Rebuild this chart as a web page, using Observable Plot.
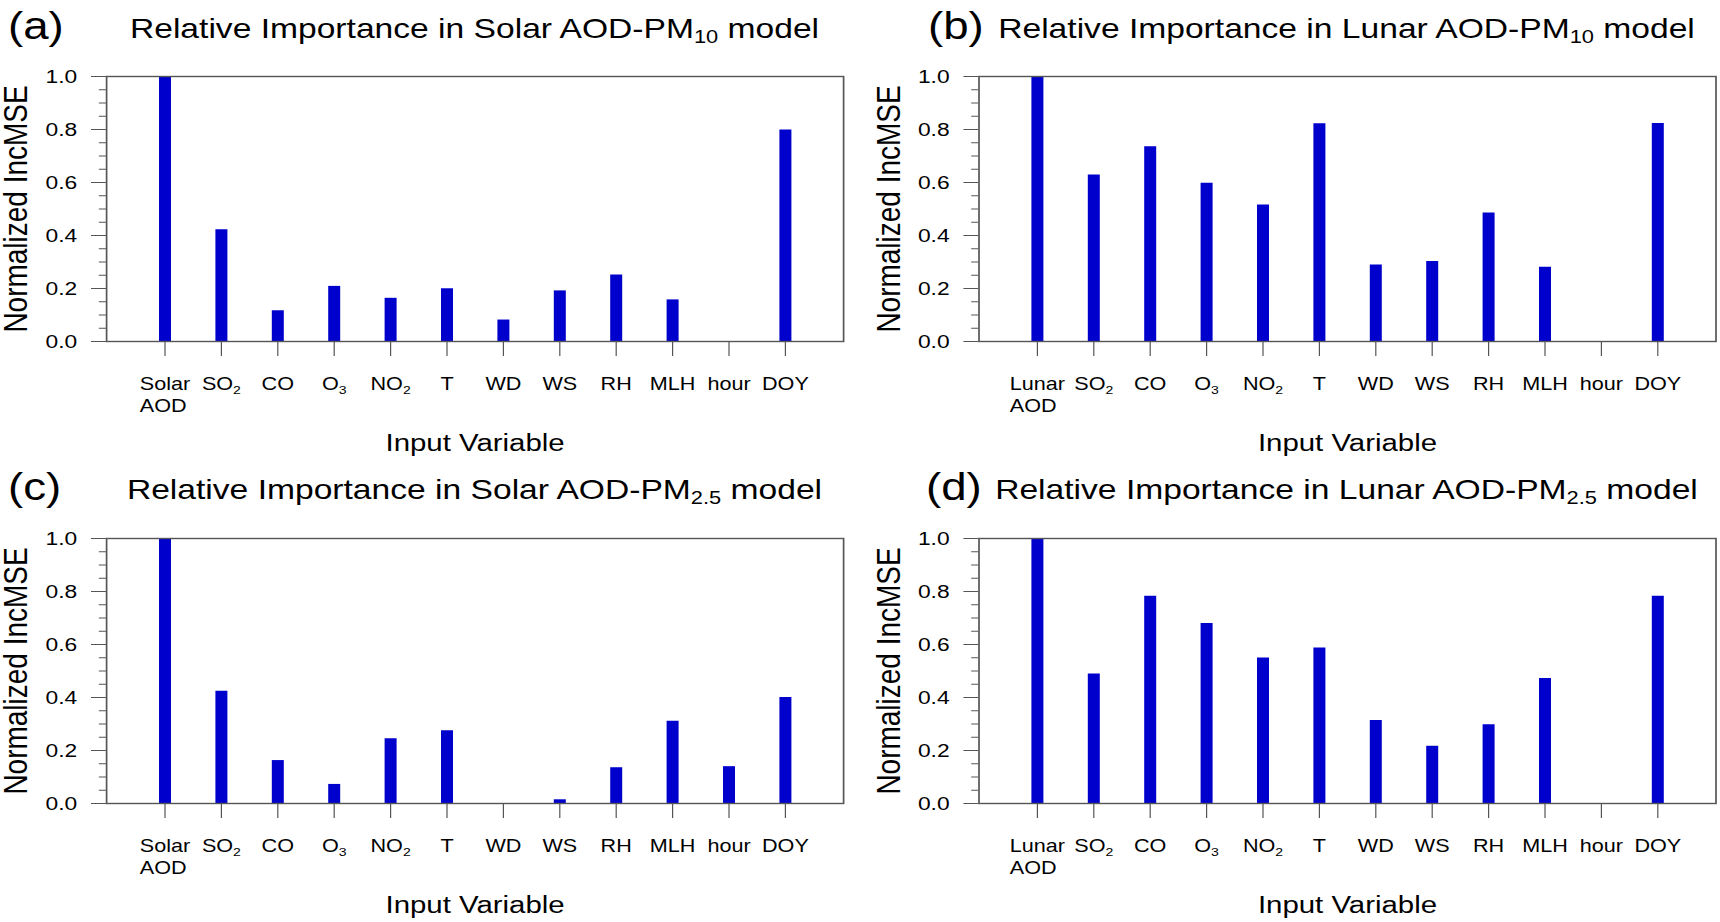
<!DOCTYPE html>
<html><head><meta charset="utf-8">
<script src="https://cdn.jsdelivr.net/npm/d3@7"></script>
<script src="https://cdn.jsdelivr.net/npm/@observablehq/plot@0.6"></script>
<style>
html,body{margin:0;padding:0;background:#fff;overflow:hidden;width:1720px;height:922px;}
#root{position:relative;width:1433.33px;height:922px;transform:scaleX(1.2);transform-origin:0 0;font-family:"Liberation Sans",Arial,Helvetica,sans-serif;color:#000;}
#root svg{position:absolute;}
.title{position:absolute;text-align:center;font-size:28px;line-height:34px;white-space:nowrap;}
.title sub{font-size:65%;vertical-align:-0.28em;line-height:0;}
.tag{position:absolute;font-size:38px;line-height:44px;white-space:nowrap;}
</style></head><body><div id="root"></div>
<script>
// ---- data ----
const solarVars = ["Solar\nAOD", "SO2", "CO", "O3", "NO2", "T", "WD", "WS", "RH", "MLH", "hour", "DOY"];
const lunarVars = ["Lunar\nAOD", "SO2", "CO", "O3", "NO2", "T", "WD", "WS", "RH", "MLH", "hour", "DOY"];
const solarPM10 = [1.0, 0.422, 0.116, 0.208, 0.163, 0.199, 0.081, 0.191, 0.251, 0.157, 0.0, 0.798];
const lunarPM10 = [1.0, 0.628, 0.735, 0.597, 0.515, 0.822, 0.289, 0.302, 0.485, 0.280, 0.0, 0.823];
const solarPM25 = [1.0, 0.424, 0.162, 0.072, 0.244, 0.275, 0.0, 0.014, 0.135, 0.310, 0.139, 0.400];
const lunarPM25 = [1.0, 0.489, 0.782, 0.679, 0.549, 0.587, 0.313, 0.216, 0.297, 0.472, 0.0, 0.782];
const majorTicks = [0, 0.2, 0.4, 0.6, 0.8, 1.0];
const minorTicks = [0.05, 0.1, 0.15, 0.25, 0.3, 0.35, 0.45, 0.5, 0.55, 0.65, 0.7, 0.75, 0.85, 0.9, 0.95];
const panelTags = ["(a)", "(b)", "(c)", "(d)"];
const panelTitles = [
  ["Relative Importance in Solar AOD-PM", "10", " model"],
  ["Relative Importance in Lunar AOD-PM", "10", " model"],
  ["Relative Importance in Solar AOD-PM", "2.5", " model"],
  ["Relative Importance in Lunar AOD-PM", "2.5", " model"]
];
const yTitle = "Normalized IncMSE";
const xTitle = "Input Variable";

// ---- layout (unscaled px; the whole figure is stretched 1.2x horizontally) ----
const S = 1.2;
const FONT = '"Liberation Sans", Arial, Helvetica, sans-serif';
const BAR = "#0000cd";
const AX = "#555";
const mL = 106 / S, plotW = 737 / S, mR = 4, mT = 10, mB = 125, H = 400;
const W = mL + plotW + mR;
const panels = [
  {cats: solarVars, vals: solarPM10, left: 0, top: 66, titleY: 28.5, tagX: 8, tagY: 26},
  {cats: lunarVars, vals: lunarPM10, left: 872 / S, top: 66, titleY: 28.5, tagX: 928, tagY: 26},
  {cats: solarVars, vals: solarPM25, left: 0, top: 528, titleY: 490, tagX: 8, tagY: 487},
  {cats: lunarVars, vals: lunarPM25, left: 872 / S, top: 528, titleY: 490, tagX: 926, tagY: 487}
];

const root = document.getElementById("root");

panels.forEach((p, k) => {
  const data = p.cats.map((c, i) => ({name: c, value: p.vals[i]}));
  const svg = Plot.plot({
    width: W, height: H,
    marginLeft: mL, marginRight: mR, marginTop: mT, marginBottom: mB,
    style: {fontFamily: FONT, fontSize: "18px", background: "transparent", color: "#000", maxWidth: "none", overflow: "visible"},
    x: {type: "point", domain: p.cats, padding: 1, axis: null},
    y: {domain: [0, 1], axis: null},
    marks: [
      Plot.ruleX(data, {x: "name", y1: 0, y2: "value", stroke: BAR, strokeWidth: 10}),
      Plot.frame({stroke: AX, strokeWidth: 1.4}),
      Plot.axisY(minorTicks, {tickSize: 6, tickFormat: () => "", stroke: AX, label: null}),
      Plot.axisY(majorTicks, {tickSize: 12.5, tickPadding: 12, tickFormat: d3.format(".1f"), stroke: AX, fontSize: 19, label: null}),
      Plot.axisX(p.cats, {tickSize: 15, tickPadding: 18, tickFormat: d => d, stroke: AX, fontSize: 18, lineHeight: 1.22, label: null}),
      Plot.text([yTitle], {frameAnchor: "left", textAnchor: "middle", dx: -75, rotate: -90, fontSize: 28, text: d => d, fill: "#000"}),
      Plot.text([xTitle], {frameAnchor: "bottom", textAnchor: "middle", dy: 109, fontSize: 24.5, text: d => d, fill: "#000"})
    ]
  });
  svg.style.left = p.left + "px";
  svg.style.top = p.top + "px";
  root.appendChild(svg);

  // subscripts and left-justified second line, as in the original tick labels
  svg.querySelectorAll("text").forEach(t => {
    const tx = t.textContent;
    const m = /^(SO|O|NO)(\d)$/.exec(tx);
    if (m && t.children.length === 0) {
      t.textContent = "";
      const a = document.createElementNS("http://www.w3.org/2000/svg", "tspan");
      a.textContent = m[1];
      const b = document.createElementNS("http://www.w3.org/2000/svg", "tspan");
      b.textContent = m[2];
      b.setAttribute("font-size", "0.65em");
      b.setAttribute("dy", "0.35em");
      t.appendChild(a); t.appendChild(b);
    }
    const spans = t.querySelectorAll("tspan");
    if (spans.length === 2 && /AOD/.test(tx)) {
      const w = spans[0].getComputedTextLength();
      t.setAttribute("text-anchor", "start");
      spans.forEach(s => s.setAttribute("x", -w / 2));
    }
  });

  // panel tag and title
  const tag = document.createElement("div");
  tag.className = "tag";
  tag.textContent = panelTags[k];
  tag.style.left = (p.tagX / S) + "px";
  tag.style.top = (p.tagY - 22) + "px";
  root.appendChild(tag);

  const title = document.createElement("div");
  title.className = "title";
  const [t1, t2, t3] = panelTitles[k];
  title.append(t1);
  const sub = document.createElement("sub");
  sub.textContent = t2;
  title.append(sub);
  title.append(t3);
  title.style.left = (p.left + mL) + "px";
  title.style.width = plotW + "px";
  title.style.top = (p.titleY - 17) + "px";
  root.appendChild(title);
});
</script>
</body></html>
